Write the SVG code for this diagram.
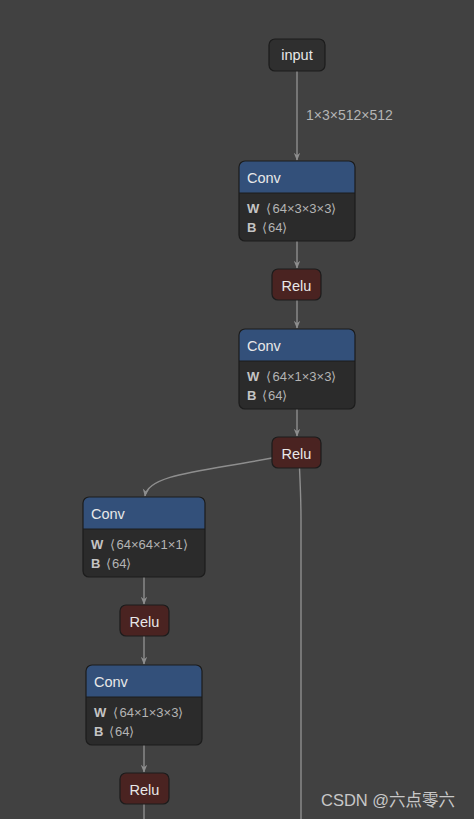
<svg xmlns="http://www.w3.org/2000/svg" width="474" height="819" viewBox="0 0 474 819">
<style>
.bg{fill:#414141}
.edge{fill:none;stroke:#8e8e8e;stroke-width:1.4}
.hdr{fill:#33507a}
.body{fill:#2b2b2b}
.frame{fill:none;stroke:#1c1c1c;stroke-width:1.2}
.relu{fill:#4a2321;stroke:#1c1c1c;stroke-width:1.2}
.inp{fill:#2f2f2f;stroke:#1c1c1c;stroke-width:1.2}
.t{font-family:"Liberation Sans",Arial,sans-serif;font-size:14.5px;fill:#e8e8e8}
.a{font-family:"Liberation Sans",Arial,sans-serif;font-size:13px;fill:#b4b4b4}
.ab{font-weight:bold;fill:#c4c4c4}
.lbl{font-family:"Liberation Sans",Arial,sans-serif;font-size:14px;fill:#b4b4b4}
.wm{font-family:"Liberation Sans","Noto Sans CJK SC",sans-serif;font-size:16.5px;fill:#c8c8c8}
</style>
<defs>
<marker id="arr" viewBox="0 0 10 10" refX="9" refY="5" markerWidth="8" markerHeight="8" markerUnits="userSpaceOnUse" orient="auto">
<path d="M0,1 L10,5 L0,9 L3,5 Z" fill="#8e8e8e"/>
</marker>
<clipPath id="c1"><rect x="239" y="161" width="116" height="80" rx="6"/></clipPath>
<clipPath id="c2"><rect x="239" y="329" width="116" height="80" rx="6"/></clipPath>
<clipPath id="c3"><rect x="83" y="497" width="122" height="80" rx="6"/></clipPath>
<clipPath id="c4"><rect x="86" y="665" width="116" height="80" rx="6"/></clipPath>
</defs>
<rect class="bg" x="0" y="0" width="474" height="819"/>
<g id="connectors">
<path class="edge" d="M297 71 L297 160" marker-end="url(#arr)"/>
<text class="lbl" x="306" y="120">1×3×512×512</text>
<path class="edge" d="M297 241 L297 268" marker-end="url(#arr)"/>
<path class="edge" d="M297 300 L297 328" marker-end="url(#arr)"/>
<path class="edge" d="M297 409 L297 436" marker-end="url(#arr)"/>
<path class="edge" d="M272 458 C205 471 148 474 145 496" marker-end="url(#arr)"/>
<path class="edge" d="M299.5 468 C300.5 490 301 500 301 520 L301 819"/>
<path class="edge" d="M144 577 L144 604" marker-end="url(#arr)"/>
<path class="edge" d="M144 636 L144 664" marker-end="url(#arr)"/>
<path class="edge" d="M144 745 L144 772" marker-end="url(#arr)"/>
<path class="edge" d="M144 804 L144 819"/>
</g>
<g id="input">
<rect class="inp" x="269" y="39" width="56" height="32" rx="6"/>
<text class="t" x="297" y="60" text-anchor="middle">input</text>
</g>
<g id="conv1">
<g clip-path="url(#c1)"><rect class="body" x="239" y="161" width="116" height="80"/><rect class="hdr" x="239" y="161" width="116" height="32"/></g>
<line x1="239" y1="193" x2="355" y2="193" stroke="#1c1c1c" stroke-width="1"/>
<rect class="frame" x="239" y="161" width="116" height="80" rx="6"/>
<text class="t" x="247" y="182.5">Conv</text>
<text class="a" x="247" y="212.5"><tspan class="ab">W</tspan><tspan x="266">⟨</tspan><tspan x="272.5">64×3×3×3⟩</tspan></text>
<text class="a" x="247" y="231.5"><tspan class="ab">B</tspan><tspan x="262">⟨</tspan><tspan x="268">64⟩</tspan></text>
</g>
<g id="relu1">
<rect class="relu" x="272" y="269" width="49" height="31" rx="6"/>
<text class="t" x="296.5" y="290.5" text-anchor="middle">Relu</text>
</g>
<g id="conv2">
<g clip-path="url(#c2)"><rect class="body" x="239" y="329" width="116" height="80"/><rect class="hdr" x="239" y="329" width="116" height="32"/></g>
<line x1="239" y1="361" x2="355" y2="361" stroke="#1c1c1c" stroke-width="1"/>
<rect class="frame" x="239" y="329" width="116" height="80" rx="6"/>
<text class="t" x="247" y="350.5">Conv</text>
<text class="a" x="247" y="380.5"><tspan class="ab">W</tspan><tspan x="266">⟨</tspan><tspan x="272.5">64×1×3×3⟩</tspan></text>
<text class="a" x="247" y="399.5"><tspan class="ab">B</tspan><tspan x="262">⟨</tspan><tspan x="268">64⟩</tspan></text>
</g>
<g id="relu2">
<rect class="relu" x="272" y="437" width="49" height="31" rx="6"/>
<text class="t" x="296.5" y="458.5" text-anchor="middle">Relu</text>
</g>
<g id="conv3">
<g clip-path="url(#c3)"><rect class="body" x="83" y="497" width="122" height="80"/><rect class="hdr" x="83" y="497" width="122" height="32"/></g>
<line x1="83" y1="529" x2="205" y2="529" stroke="#1c1c1c" stroke-width="1"/>
<rect class="frame" x="83" y="497" width="122" height="80" rx="6"/>
<text class="t" x="91" y="518.5">Conv</text>
<text class="a" x="91" y="548.5"><tspan class="ab">W</tspan><tspan x="110">⟨</tspan><tspan x="116.5">64×64×1×1⟩</tspan></text>
<text class="a" x="91" y="567.5"><tspan class="ab">B</tspan><tspan x="106">⟨</tspan><tspan x="112">64⟩</tspan></text>
</g>
<g id="relu3">
<rect class="relu" x="120" y="605" width="49" height="31" rx="6"/>
<text class="t" x="144.5" y="626.5" text-anchor="middle">Relu</text>
</g>
<g id="conv4">
<g clip-path="url(#c4)"><rect class="body" x="86" y="665" width="116" height="80"/><rect class="hdr" x="86" y="665" width="116" height="32"/></g>
<line x1="86" y1="697" x2="202" y2="697" stroke="#1c1c1c" stroke-width="1"/>
<rect class="frame" x="86" y="665" width="116" height="80" rx="6"/>
<text class="t" x="94" y="686.5">Conv</text>
<text class="a" x="94" y="716.5"><tspan class="ab">W</tspan><tspan x="113">⟨</tspan><tspan x="119.5">64×1×3×3⟩</tspan></text>
<text class="a" x="94" y="735.5"><tspan class="ab">B</tspan><tspan x="109">⟨</tspan><tspan x="115">64⟩</tspan></text>
</g>
<g id="relu4">
<rect class="relu" x="120" y="773" width="49" height="31" rx="6"/>
<text class="t" x="144.5" y="794.5" text-anchor="middle">Relu</text>
</g>
<text class="wm" x="321" y="806">CSDN @六点零六</text>
</svg>
